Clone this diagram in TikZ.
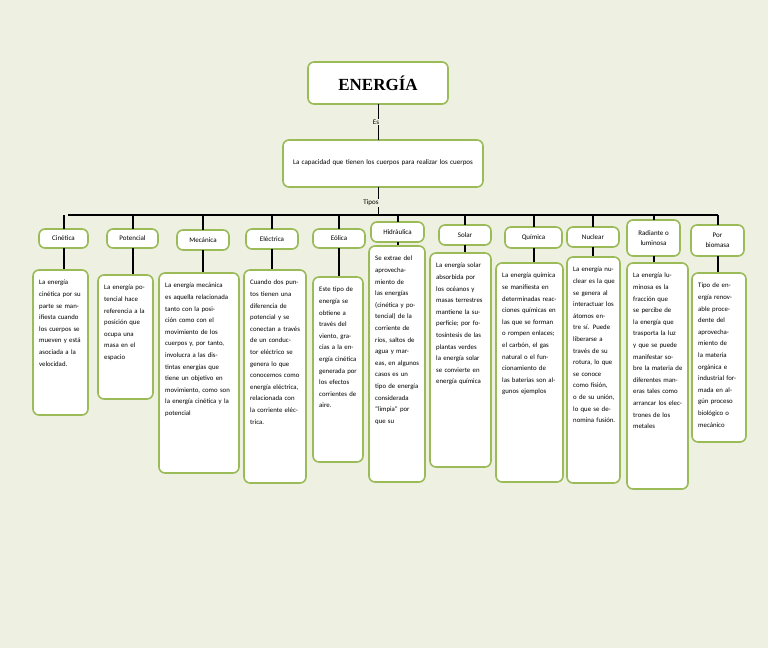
\documentclass[tikz,border=0pt]{standalone}
\usepackage{fontspec}
\setmainfont{Carlito}
\newfontfamily\titlefont{Liberation Serif}
\definecolor{bg}{HTML}{EEF1E2}
\definecolor{gborder}{HTML}{9BBB59}
\begin{document}
\begin{tikzpicture}[x=1pt,y=-1pt,
  box/.style={draw=gborder,line width=1.6pt,fill=white,rounded corners=6pt},
  conn/.style={line width=2pt,black},
  txt/.style={anchor=north west,inner sep=0pt,font=\fontsize{6.8}{11.6}\selectfont,align=left},
  lbl/.style={font=\fontsize{7}{10}\selectfont,align=center}]
\path[fill=bg] (0,0) rectangle (768,648);
\useasboundingbox (0,0) rectangle (768,648);
% title & definition
\draw[box] (308,62) rectangle (448,104);
\node (title) at (378,83) {\titlefont\bfseries\fontsize{17}{20}\selectfont ENERGÍA};
\draw[box] (283,140) rectangle (483,187);
\node[lbl,text width=185pt] (def) at (383,163) {La capacidad que tienen los cuerpos para realizar los cuerpos};
\coordinate (t1) at (378,104); \coordinate (d1) at (378,140);
\coordinate (d2) at (378,187); \coordinate (bar) at (378,215);
\draw[line width=1pt] (t1) -- (d1);
\node[lbl,fill=bg,inner sep=1pt] (es) at (376,122) {Es};
\draw[line width=1pt] (d2) -- (bar);
\node[lbl,fill=bg,inner sep=1pt] (tipos) at (371,203) {Tipos};
\coordinate (barL) at (68,215); \coordinate (barR) at (718,215);
\draw[conn] (barL) -- (barR);
\foreach \n/\a/\b/\c/\d/\lab/\e/\f/\g/\h/\t in {
 cin/39/229/88/248/Cinética/33/270/88/415/{La energía cinética por su parte se manifiesta cuando los cuerpos se mueven y está asociada a la velocidad.},
 pot/107/229/158/248/Potencial/98/275/153/399/{La energía potencial hace referencia a la posición que ocupa una masa en el espacio},
 mec/177/230/229/250/Mecánica/159/273/239/473/{La energía mecánica es aquella relacionada tanto con la posición como con el movimiento de los cuerpos y, por tanto, involucra a las distintas energías que tiene un objetivo en movimiento, como son la energía cinética y la potencial},
 ele/246/229/298/249/Eléctrica/244/270/306/483/{Cuando dos puntos tienen una diferencia de potencial y se conectan a través de un conductor eléctrico se genera lo que conocemos como energía eléctrica, relacionada con la corriente eléctrica.},
 eol/313/229/365/248/Eólica/313/277/363/462/{Este tipo de energía se obtiene a través del viento, gracias a la energía cinética generada por los efectos corrientes de aire.},
 hid/371/222/424/242/Hidráulica/369/246/425/482/{Se extrae del aprovecha\-miento de las energías (cinética y potencial) de la corriente de ríos, saltos de agua y mareas, en algunos casos es un tipo de energía considerada “limpia” por que su},
 sol/439/225/491/245/Solar/430/253/491/467/{La energía solar absorbida por los océanos y masas terrestres mantiene la superficie; por fotosíntesis de las plantas verdes la energía solar se convierte en energía química},
 qui/505/227/562/248/Química/496/263/563/482/{La energía química se manifiesta en determinadas reacciones químicas en las que se forman o rompen enlaces; el carbón, el gas natural o el funcionamiento de las baterías son algunos ejemplos},
 nuc/567/227/619/247/Nuclear/567/257/620/483/{La energía nuclear es la que se genera al interactuar los átomos entre sí. Puede liberarse a través de su rotura, lo que se conoce como fisión, o de su unión, lo que se denomina fusión.},
 rad/627/220/680/256/{Radiante o\\luminosa}/627/263/688/489/{La energía luminosa es la fracción que se percibe de la energía que trasporta la luz y que se puede manifestar sobre la materia de diferentes maneras tales como arrancar los electrones de los metales},
 bio/691/225/744/256/{Por\\biomasa}/692/273/746/442/{Tipo de energía renovable procedente del aprovecha\-miento de la materia orgánica e industrial formada en algún proceso biológico o mecánico}}
{
 \draw[box] (\a,\b) rectangle (\c,\d);
 \node[lbl] (\n) at ({(\a+\c)/2},{(\b+\d)/2}) {\lab};
 \coordinate (\n top) at ({(\a+\c)/2},215);
 \coordinate (\n bot) at ({(\a+\c)/2},\d);
 \coordinate (\n dtop) at ({(\a+\c)/2},\f);
 \draw[conn] (\n top) -- ({(\a+\c)/2},\b);
 \draw[conn] (\n bot) -- (\n dtop);
 \draw[box] (\e,\f) rectangle (\g,\h);
 \pgfmathsetmacro\tw{\g-\e-11}
 \node[txt,text width=\tw pt] (\n d) at ({\e+6},{\f+10}) {\raggedright\hyphenpenalty=200\tolerance=2000 \t};
}
\end{tikzpicture}
\end{document}
